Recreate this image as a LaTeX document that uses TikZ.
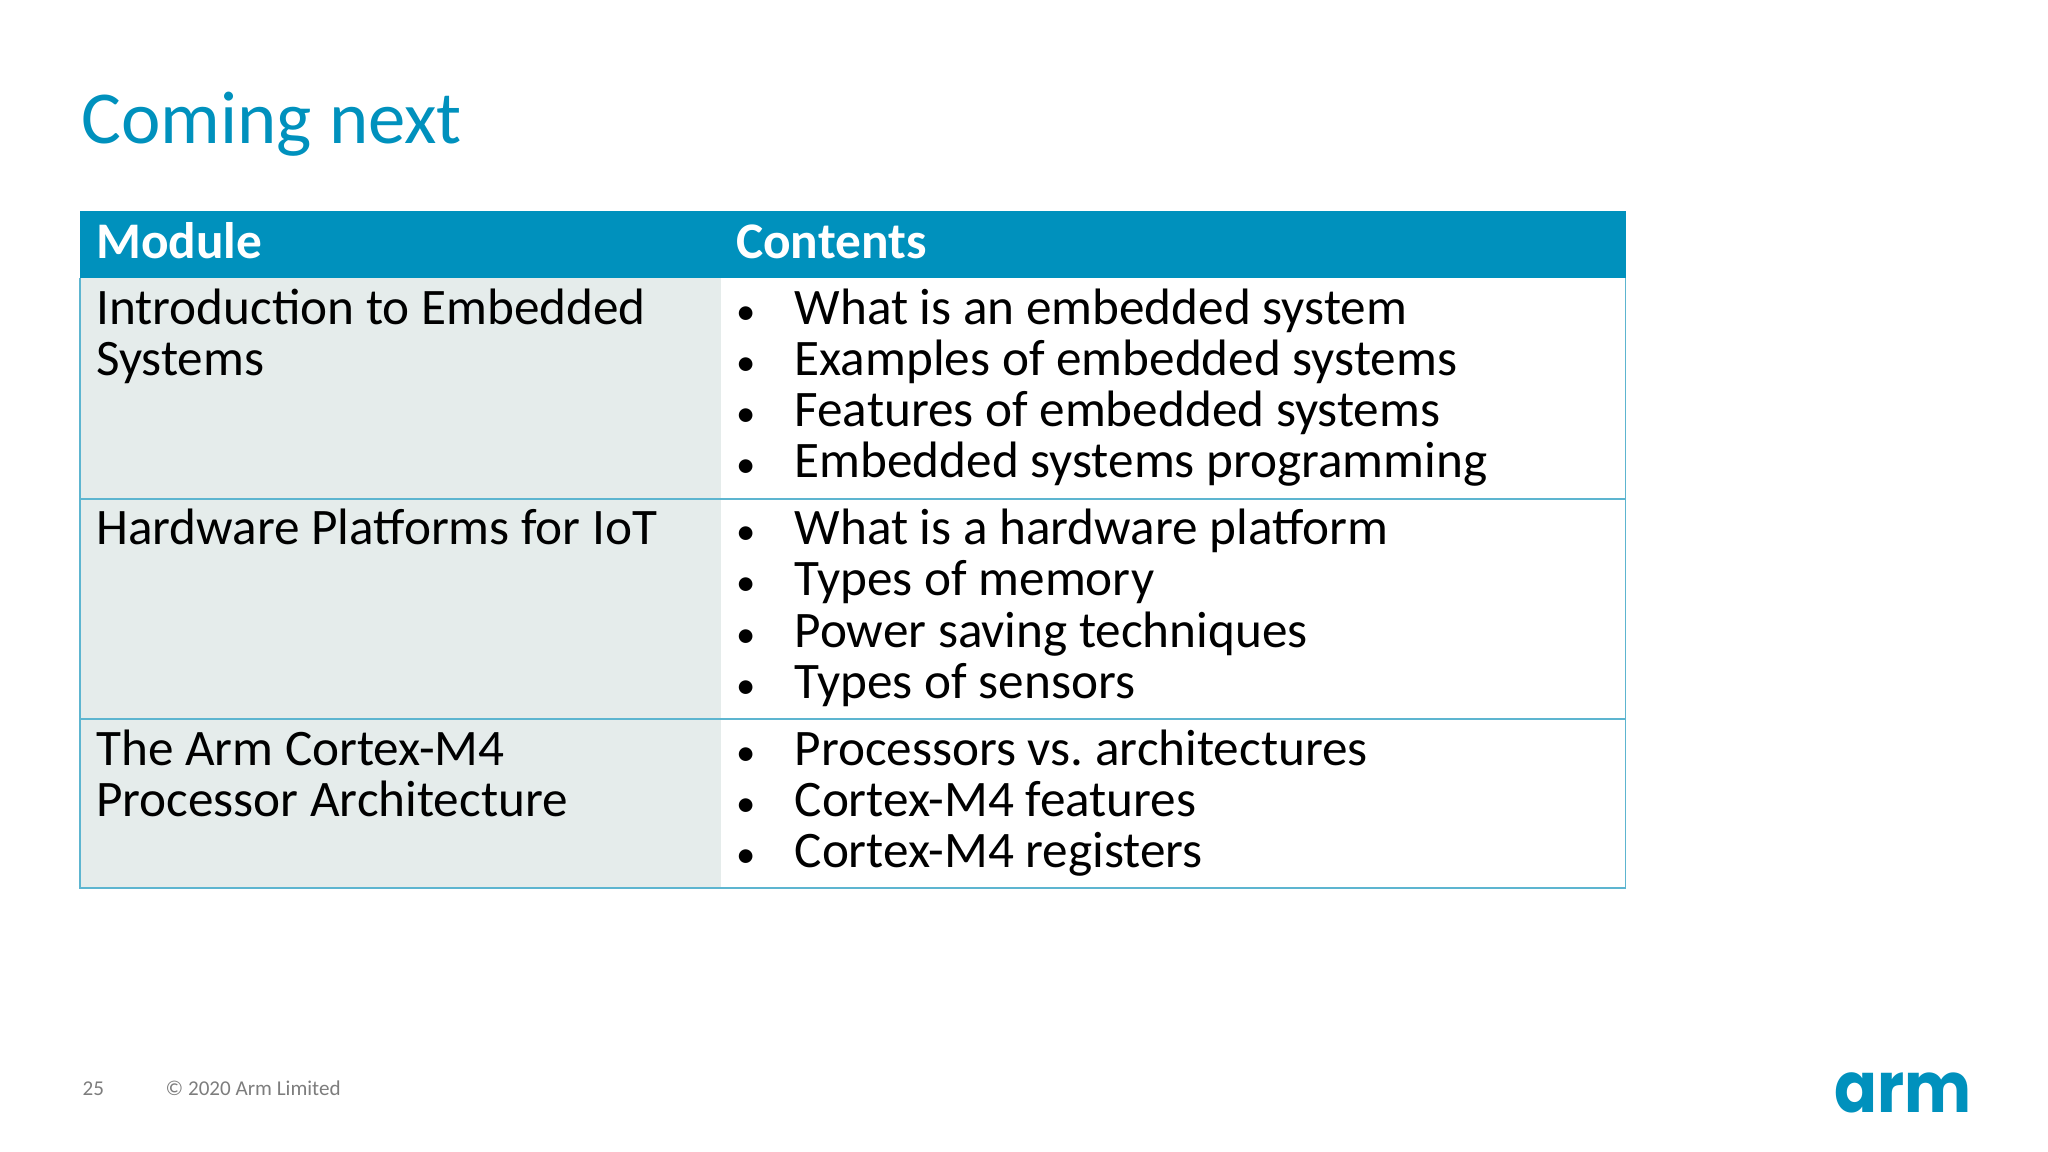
\documentclass[tikz,border=0pt]{standalone}
\usepackage{fontspec}
\setmainfont{Carlito}
\newfontfamily\logofont{Poppins}
\definecolor{armblue}{HTML}{0091BD}
\definecolor{rowgray}{HTML}{E5ECEB}
\definecolor{ruleblue}{HTML}{5DB5D0}
\definecolor{footgray}{HTML}{7D7D7D}
\tikzset{
	body/.style={anchor=base west, inner sep=0pt, text=black, font=\fontsize{14.56}{18}\selectfont},
	head/.style={anchor=base west, inner sep=0pt, text=white, font=\fontsize{14.6}{18}\selectfont\bfseries},
	foot/.style={anchor=base west, inner sep=0pt, text=footgray, font=\fontsize{6}{8}\selectfont},
	bullet/.style={anchor=base, inner sep=0pt, text=black, font=\fontsize{11}{14}\selectfont}
}
\frenchspacing

\begin{document}
\begin{tikzpicture}[x=0.01cm, y=-0.01cm]
		%%%%% START %%%%%
		\useasboundingbox (0, 0) rectangle (2048, 1152);
		
		\node[anchor=base west, inner sep=0pt, text=armblue, font=\fontsize{21.25}{24}\selectfont] (title) at (81, 143.5) {Coming next};
		
		\fill[rowgray] (80, 278) rectangle (720.5, 888);
		\fill[armblue] (80, 211) rectangle (1625.5, 278);
		\draw[ruleblue, line width=0.3pt] (80, 278) -- (80, 888) -- (1625.5, 888) -- (1625.5, 278);
		\draw[ruleblue, line width=0.3pt] (80, 499) -- (1625.5, 499);
		\draw[ruleblue, line width=0.3pt] (80, 719) -- (1625.5, 719);
		
		\node[head] (modhead) at (95.5, 258.3) {Module};
		\node[head] (conthead) at (735.5, 258.3) {Contents};
		
		\node[body] (mod1a) at (95.5, 324.3) {Introduction to Embedded};
		\node[body] (mod1b) at (95.5, 375.6) {Systems};
		\node[body] (mod2a) at (95.5, 544.3) {Hardware Platforms for IoT};
		\node[body] (mod3a) at (95.5, 765.3) {The Arm Cortex-M4};
		\node[body] (mod3b) at (95.5, 816) {Processor Architecture};
		
		\foreach \i/\ypos/\txt in {
			1/324.3/What is an embedded system,
			2/375.6/Examples of embedded systems,
			3/426.9/Features of embedded systems,
			4/478/Embedded systems programming,
			5/544.3/What is a hardware platform,
			6/595.8/Types of memory,
			7/647.2/Power saving techniques,
			8/698.6/Types of sensors,
			9/765.3/Processors vs. architectures,
			10/816/Cortex-M4 features,
			11/867.3/Cortex-M4 registers}{
			\node[bullet] (dot\i) at (746, \ypos) {•};
			\node[body] (item\i) at (794, \ypos) {\txt};
		}
		
		\node[foot] (page) at (82, 1095) {25};
		\node[foot] (copy) at (165, 1095) {© 2020 Arm Limited};
		\node[anchor=base west, inner sep=0pt, text=armblue, font=\fontsize{20}{24}\selectfont\logofont\bfseries, xscale=0.9, transform shape] (logo) at (1834, 1112) {arm};
		%%%%% END %%%%%
	\end{tikzpicture}
\end{document}
